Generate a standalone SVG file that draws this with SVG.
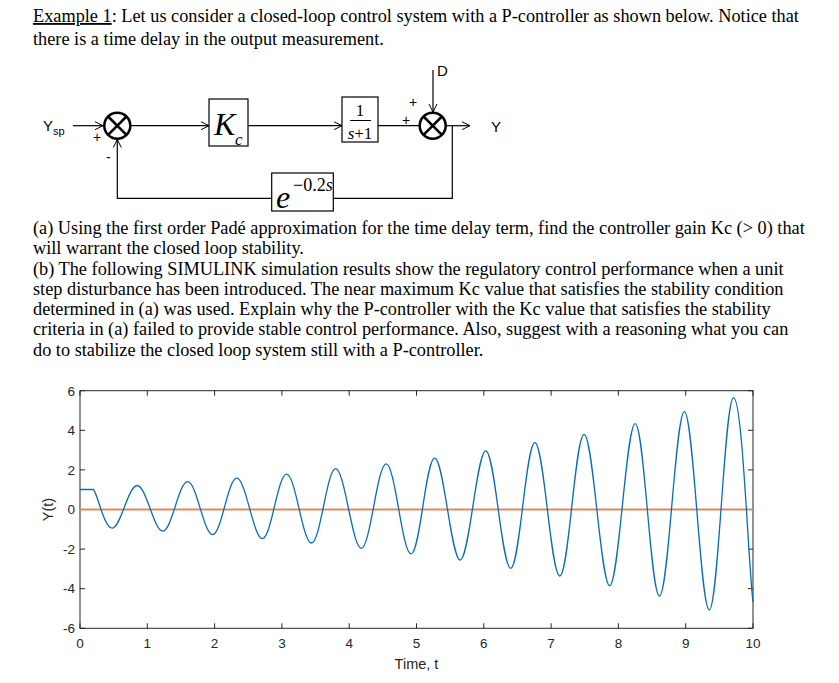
<svg xmlns="http://www.w3.org/2000/svg" width="839" height="683" viewBox="0 0 839 683">
<style>
.t{font-family:"Liberation Serif","Times New Roman",serif;font-size:18.3px;fill:#000}
.s{font-family:"Liberation Sans",Arial,sans-serif;fill:#000}
.ln{stroke:#000;stroke-width:1.2;fill:none}
.sum{stroke:#000;stroke-width:2.5;fill:#fff}
.blk{stroke:#000;stroke-width:1.2;fill:#fff}
.ax{font-family:"Liberation Sans",Arial,sans-serif;font-size:13.5px;fill:#262626}
.tk{stroke:#262626;stroke-width:1}
</style>
<defs>
<marker id="ar" markerWidth="10" markerHeight="10" refX="9" refY="5" orient="auto" markerUnits="userSpaceOnUse">
<path d="M1,1 L9,5 L1,9" fill="none" stroke="#000" stroke-width="1"/>
</marker>
</defs>
<rect width="839" height="683" fill="#fff"/>
<g id="text">
<text class="t" x="33" y="22"><tspan text-decoration="underline">Example 1</tspan>: Let us consider a closed-loop control system with a P-controller as shown below. Notice that</text>
<text class="t" x="33" y="45">there is a time delay in the output measurement.</text>
<text class="t" x="33" y="234">(a) Using the first order Padé approximation for the time delay term, find the controller gain Kc (&gt; 0) that</text>
<text class="t" x="33" y="254">will warrant the closed loop stability.</text>
<text class="t" x="33" y="275">(b) The following SIMULINK simulation results show the regulatory control performance when a unit</text>
<text class="t" x="33" y="295">step disturbance has been introduced. The near maximum Kc value that satisfies the stability condition</text>
<text class="t" x="33" y="315">determined in (a) was used. Explain why the P-controller with the Kc value that satisfies the stability</text>
<text class="t" x="33" y="335">criteria in (a) failed to provide stable control performance. Also, suggest with a reasoning what you can</text>
<text class="t" x="33" y="356">do to stabilize the closed loop system still with a P-controller.</text>
</g>
<g id="connectors">
<line class="ln" x1="73" y1="125.7" x2="103" y2="125.7" marker-end="url(#ar)"/>
<line class="ln" x1="130.5" y1="125.7" x2="209" y2="125.7" marker-end="url(#ar)"/>
<line class="ln" x1="248" y1="125.7" x2="342" y2="125.7" marker-end="url(#ar)"/>
<line class="ln" x1="378" y1="125.7" x2="419.5" y2="125.7"/>
<line class="ln" x1="433" y1="70" x2="433" y2="112" marker-end="url(#ar)"/>
<line class="ln" x1="446" y1="125.7" x2="470" y2="125.7" marker-end="url(#ar)"/>
<polyline class="ln" points="452.3,125.7 452.3,198.3 333.3,198.3"/>
<polyline class="ln" points="271.7,198.3 117.3,198.3 117.3,139.5" marker-end="url(#ar)"/>
</g>
<g id="ysp"><text class="s" x="43" y="131" font-size="15">Y<tspan font-size="11" dy="4">sp</tspan></text></g>
<g id="sum1">
<circle class="sum" cx="117.3" cy="125.7" r="13"/>
<path d="M108.1,116.5 L126.5,134.9 M126.5,116.5 L108.1,134.9" stroke="#000" stroke-width="2.5"/>
<text class="s" x="93" y="142" font-size="14">+</text>
<text class="s" x="106" y="162" font-size="14">-</text>
</g>
<g id="kc">
<rect class="blk" x="209" y="99" width="39" height="47"/>
<text x="214" y="135" font-family="Liberation Serif,serif" font-style="italic" font-size="32">K</text>
<text x="235" y="145" font-family="Liberation Serif,serif" font-style="italic" font-size="17">c</text>
</g>
<g id="plant">
<rect class="blk" x="342" y="97" width="36" height="45"/>
<text x="360" y="116" text-anchor="middle" font-family="Liberation Serif,serif" font-size="17">1</text>
<line x1="350" y1="120.5" x2="371" y2="120.5" stroke="#000" stroke-width="1"/>
<text x="360" y="139" text-anchor="middle" font-family="Liberation Serif,serif" font-size="17"><tspan font-style="italic">s</tspan>+1</text>
</g>
<g id="sum2">
<circle class="sum" cx="432.7" cy="125.7" r="13"/>
<path d="M423.5,116.5 L441.9,134.9 M441.9,116.5 L423.5,134.9" stroke="#000" stroke-width="2.5"/>
<text class="s" x="402" y="125" font-size="14">+</text>
<text class="s" x="409" y="107" font-size="14">+</text>
</g>
<g id="d"><text class="s" x="437" y="76" font-size="15">D</text></g>
<g id="y"><text class="s" x="491" y="132" font-size="15">Y</text></g>
<g id="delay">
<rect class="blk" x="271.7" y="173" width="61.6" height="38"/>
<text x="276" y="208" font-family="Liberation Serif,serif" font-style="italic" font-size="32">e</text>
<text x="293" y="191" font-family="Liberation Serif,serif" font-size="18">−0.2<tspan font-style="italic">s</tspan></text>
</g>
<g id="plot">
<rect x="80" y="390.7" width="673" height="237.6" fill="#fff" stroke="#262626" stroke-width="1"/>
<g class="tk">
<path d="M80,390.7h5M80,430.3h5M80,469.9h5M80,509.5h5M80,549.1h5M80,588.7h5M80,628.3h5M753,390.7h-5M753,430.3h-5M753,469.9h-5M753,509.5h-5M753,549.1h-5M753,588.7h-5M753,628.3h-5"/>
<path d="M80,628.3v-5M147.3,628.3v-5M214.6,628.3v-5M281.9,628.3v-5M349.2,628.3v-5M416.5,628.3v-5M483.8,628.3v-5M551.1,628.3v-5M618.4,628.3v-5M685.7,628.3v-5M753,628.3v-5M80,390.7v5M147.3,390.7v5M214.6,390.7v5M281.9,390.7v5M349.2,390.7v5M416.5,390.7v5M483.8,390.7v5M551.1,390.7v5M618.4,390.7v5M685.7,390.7v5M753,390.7v5"/>
</g>
<g class="ax" text-anchor="end">
<text x="75" y="395.5">6</text><text x="75" y="435">4</text><text x="75" y="474.5">2</text><text x="75" y="514">0</text><text x="75" y="553.5">-2</text><text x="75" y="593">-4</text><text x="75" y="632.5">-6</text>
</g>
<g class="ax" text-anchor="middle">
<text x="80" y="648">0</text><text x="147.3" y="648">1</text><text x="214.6" y="648">2</text><text x="281.9" y="648">3</text><text x="349.2" y="648">4</text><text x="416.5" y="648">5</text><text x="483.8" y="648">6</text><text x="551.1" y="648">7</text><text x="618.4" y="648">8</text><text x="685.7" y="648">9</text><text x="753" y="648">10</text>
<text x="416.5" y="669" font-size="14.5">Time, t</text>
<text transform="translate(53,509.5) rotate(-90)" font-size="14.5">Y(t)</text>
</g>
<line x1="80" y1="509.5" x2="753" y2="509.5" stroke="#e08a60" stroke-width="2"/>
<path fill="none" stroke="#0b6cb8" stroke-width="1.3" d="M80,489.5 L93.5,489.5 C98,495 104,528.1 112.3,528.1 S128.2,485.5 137.2,485.5 S153.8,531.1 162.8,531.1 S178.7,481.6 187.7,481.6 S203.6,534.6 212.6,534.6 S227.8,478.2 236.8,478.2 S253.4,538.6 262.4,538.6 S277.6,474.1 286.6,474.1 S302.5,543 311.5,543 S326.7,468.7 335.7,468.7 S352.3,548.3 361.3,548.3 S377.2,463.8 386.2,463.8 S402.1,553.9 411.1,553.9 S425.7,458.2 434.7,458.2 S451.2,560 460.2,560 S476.8,450.9 485.8,450.9 S501.7,568.3 510.7,568.3 S525.9,442.6 534.9,442.6 S550.8,576 559.8,576 S575.1,434.3 584.1,434.3 S600.7,585.7 609.7,585.7 S626.2,423.6 635.2,423.6 S650.5,596 659.5,596 S675.4,411.7 684.4,411.7 S700.3,609.9 709.3,609.9 S724.5,397.6 733.5,397.6 C742.5,397.6 748,560 753,602"/>
</g>
</svg>
